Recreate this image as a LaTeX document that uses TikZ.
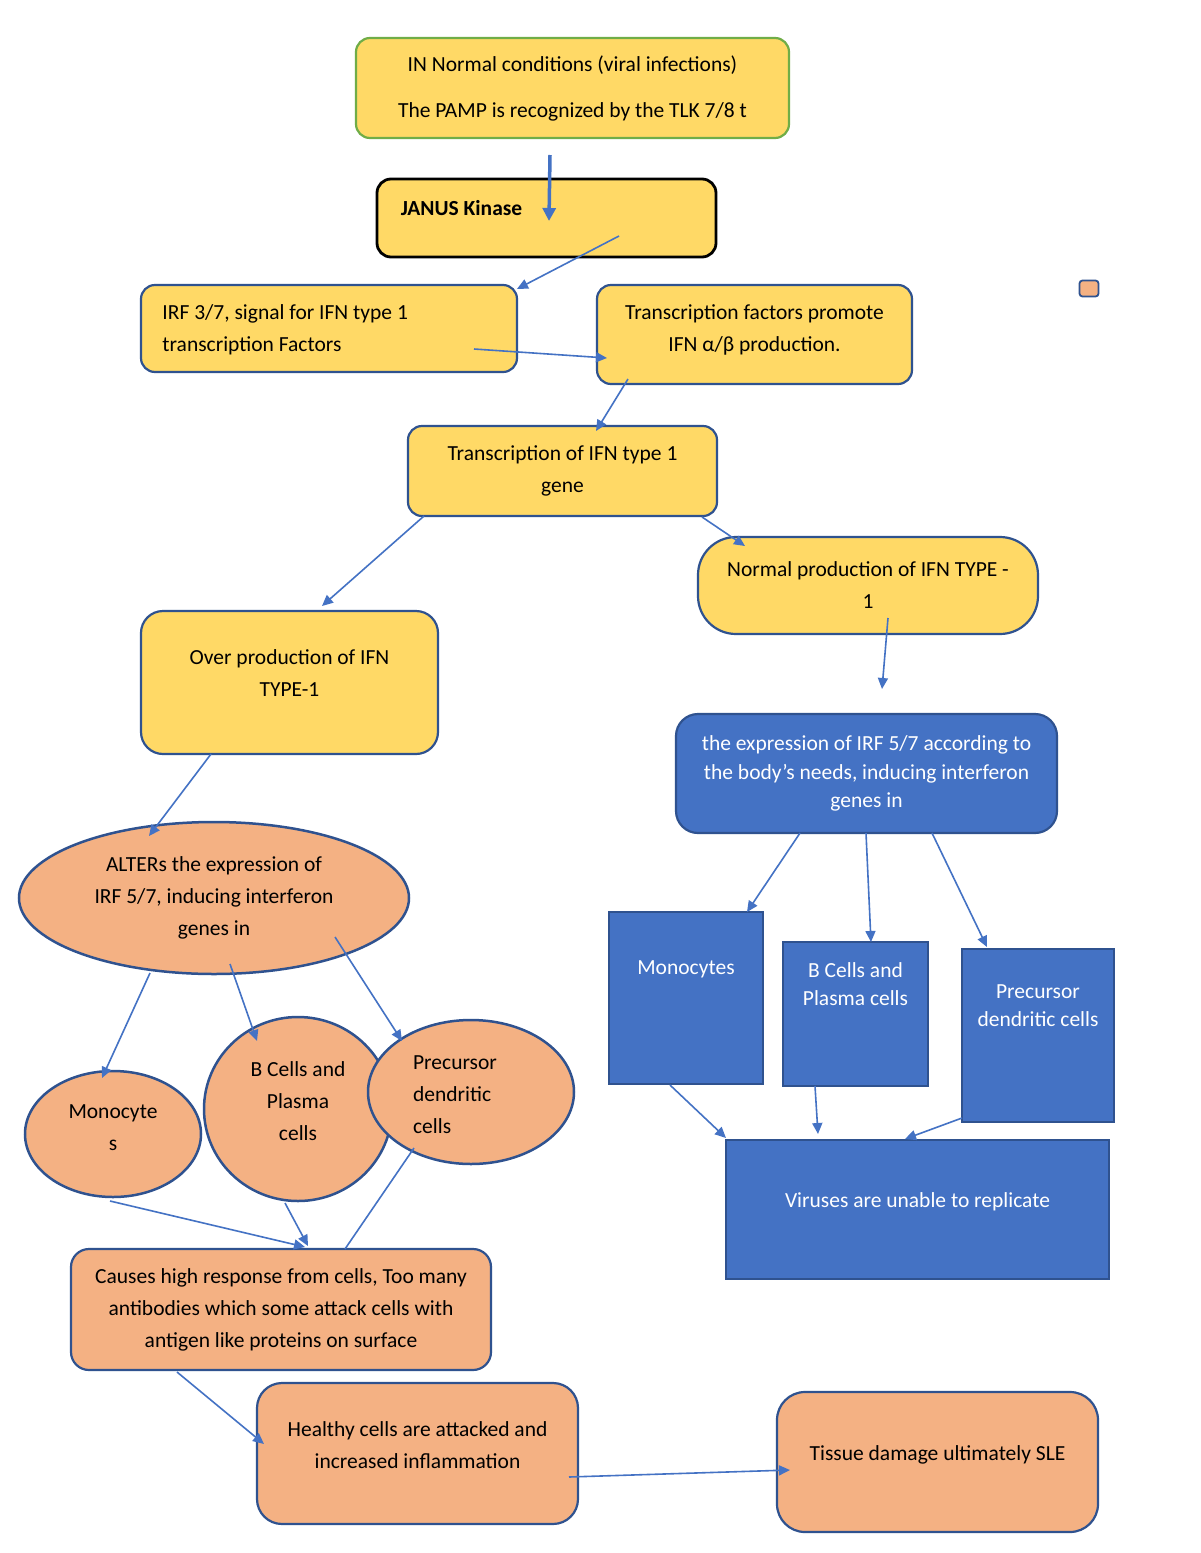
\documentclass[tikz,border=0pt]{standalone}
\usepackage{fontspec}
\setmainfont{Carlito}
\usetikzlibrary{shapes.geometric,arrows.meta}
\definecolor{ifnyellow}{HTML}{FFD966}
\definecolor{ifnorange}{HTML}{F4B183}
\definecolor{ifnblue}{HTML}{4472C4}
\definecolor{linedark}{HTML}{2F528F}
\definecolor{leafgreen}{HTML}{70AD47}
\begin{document}
\begin{tikzpicture}[x=1pt,y=-1pt,
    box/.style={draw=linedark, line width=2.2pt, rounded corners=14pt, inner sep=0pt,
      align=center, font=\fontsize{21.5}{32}\selectfont},
    ybox/.style={box, fill=ifnyellow},
    obox/.style={box, fill=ifnorange},
    bbox/.style={draw=linedark, line width=2.2pt, fill=ifnblue, text=white, inner sep=0pt,
      align=center, font=\fontsize{21.5}{28.5}\selectfont},
    cell/.style={ellipse, draw=linedark, line width=2.5pt, fill=ifnorange, inner sep=0pt,
      align=center, font=\fontsize{21.5}{32}\selectfont},
    txt/.style={align=center, font=\fontsize{21.5}{32}\selectfont},
    wtxt/.style={align=center, text=white, font=\fontsize{21.5}{28.5}\selectfont},
    flow/.style={draw=ifnblue, line width=1.6pt, -{Triangle[length=11pt,width=10pt]}}]
  \fill[white] (0,0) rectangle (1200,1553);
  \useasboundingbox (0,0) rectangle (1200,1553);

  % upper chain
  \node[ybox, draw=leafgreen, minimum width=433pt, minimum height=100pt] (viral) at (572.5,88)
    {IN Normal conditions (viral infections)\\[14pt]The PAMP is recognized by the TLK 7/8 t};
  \node[ybox, draw=black, line width=2.8pt, minimum width=339pt, minimum height=78pt,
    label={[txt, font=\fontsize{21.5}{32}\selectfont\bfseries, xshift=-85pt, yshift=10pt]center:JANUS Kinase}] (janus) at (546.5,218) {};
  \node[ybox, minimum width=376pt, minimum height=87pt,
    label={[txt, align=left, anchor=west, xshift=19pt, yshift=-1pt]west:IRF 3/7, signal for IFN type 1\\transcription Factors}] (irf) at (329,328.5) {};
  \node[ybox, minimum width=315pt, minimum height=99pt,
    label={[txt, yshift=5pt]center:Transcription factors promote\\IFN α/β production.}] (tfp) at (754.5,334.5) {};
  \node[ybox, minimum width=309pt, minimum height=90pt] (gene) at (562.5,471)
    {Transcription of IFN type 1\\gene};
  \node[ybox, rounded corners=38pt, minimum width=340pt, minimum height=97pt] (normal) at (868,585.5)
    {Normal production of IFN TYPE -\\1};
  \node[ybox, rounded corners=22pt, minimum width=297pt, minimum height=143pt,
    label={[txt, yshift=9pt]center:Over production of IFN\\TYPE-1}] (over) at (289.5,682.5) {};

  % normal branch
  \node[bbox, rounded corners=22pt, minimum width=381pt, minimum height=119pt] (expr) at (866.5,773.5)
    {the expression of IRF 5/7 according to\\the body’s needs, inducing interferon\\genes in};
  \node[bbox, minimum width=154pt, minimum height=172pt,
    label={[wtxt, yshift=29pt]center:Monocytes}] (bmono) at (686,998) {};
  \node[bbox, minimum width=145pt, minimum height=144pt,
    label={[wtxt, yshift=30pt]center:B Cells and\\Plasma cells}] (bbcell) at (855.5,1014) {};
  \node[bbox, minimum width=152pt, minimum height=173pt,
    label={[wtxt, yshift=30pt]center:Precursor\\dendritic cells}] (bprec) at (1038,1035.5) {};
  \node[bbox, minimum width=383pt, minimum height=139pt,
    label={[wtxt, yshift=8pt]center:Viruses are unable to replicate}] (virus) at (917.5,1209.5) {};

  % over production branch
  \node[cell, minimum width=390pt, minimum height=152pt] (alters) at (214,898)
    {ALTERs the expression of\\IRF 5/7, inducing interferon\\genes in};
  \node[cell, minimum width=176pt, minimum height=126pt,
    label={[txt, yshift=6pt]center:Monocyte\\s}] (mono) at (113,1134) {};
  \node[cell, minimum width=188pt, minimum height=184pt,
    label={[txt, yshift=8pt]center:B Cells and\\Plasma\\cells}] (bcell) at (298,1109) {};
  \node[cell, minimum width=206pt, minimum height=144pt,
    label={[txt, align=left, xshift=-16pt, yshift=-3pt]center:Precursor\\dendritic\\cells}] (prec) at (471,1092) {};
  \node[obox, rounded corners=18pt, minimum width=420pt, minimum height=121pt] (causes) at (281,1309.5)
    {Causes high response from cells, Too many\\antibodies which some attack cells with\\antigen like proteins on surface};
  \node[obox, rounded corners=25pt, minimum width=321pt, minimum height=141pt,
    label={[txt, yshift=8.5pt]center:Healthy cells are attacked and\\increased inflammation}] (healthy) at (417.5,1453.5) {};
  \node[obox, rounded corners=28pt, minimum width=321pt, minimum height=140pt,
    label={[txt, yshift=7pt]center:Tissue damage ultimately SLE}] (tissue) at (937.5,1462) {};
  \node[obox, rounded corners=3pt, line width=1.8pt, minimum width=19pt, minimum height=16pt] (swatch) at (1089,288.5) {};

  % connector ends
  \coordinate (viral-out) at (550,155);  \coordinate (janus-in) at (549,221);
  \coordinate (janus-out) at (619,236);  \coordinate (irf-in) at (517,289);
  \coordinate (irf-out) at (474,349);    \coordinate (tfp-in) at (607,358);
  \coordinate (tfp-out) at (628,379);    \coordinate (gene-in) at (596,431);
  \coordinate (gene-r) at (702,517);     \coordinate (normal-in) at (745,546);
  \coordinate (gene-l) at (424,516);     \coordinate (over-in) at (322,606);
  \coordinate (normal-out) at (888,618); \coordinate (expr-in) at (882,689);
  \coordinate (over-out) at (211,754);   \coordinate (alters-in) at (149,836);
  \coordinate (expr-l) at (800,833);     \coordinate (bmono-in) at (747,912);
  \coordinate (expr-m) at (866,833);     \coordinate (bbcell-in) at (871,942);
  \coordinate (expr-r) at (932,833);     \coordinate (bprec-in) at (987,947);
  \coordinate (alters-l) at (150,973);   \coordinate (mono-in) at (102,1078);
  \coordinate (alters-m) at (230,964);   \coordinate (bcell-in) at (257,1041);
  \coordinate (alters-r) at (335,937);   \coordinate (prec-in) at (402,1041);
  \coordinate (mono-out) at (110,1201);  \coordinate (causes-in) at (305,1247);
  \coordinate (bcell-out) at (285,1203); \coordinate (causes-in2) at (308,1246);
  \coordinate (prec-out) at (414,1148);  \coordinate (causes-top) at (345,1249);
  \coordinate (causes-out) at (177,1372);\coordinate (healthy-in) at (264,1444);
  \coordinate (healthy-out) at (569,1477);\coordinate (tissue-in) at (790,1470);
  \coordinate (bmono-out) at (670,1085); \coordinate (virus-l) at (726,1138);
  \coordinate (bbcell-out) at (815,1086);\coordinate (virus-m) at (818,1134);
  \coordinate (bprec-out) at (962,1118); \coordinate (virus-r) at (905,1139);

  \begin{scope}[flow]
    \draw[line width=3.5pt, -{Triangle[length=13pt,width=13pt]}] (viral-out) to (janus-in);
    \draw (janus-out) to (irf-in);
    \draw (irf-out) to (tfp-in);
    \draw (tfp-out) to (gene-in);
    \draw (gene-r) to (normal-in);
    \draw (gene-l) to (over-in);
    \draw (normal-out) to (expr-in);
    \draw (over-out) to (alters-in);
    \draw (expr-l) to (bmono-in);
    \draw (expr-m) to (bbcell-in);
    \draw (expr-r) to (bprec-in);
    \draw (alters-l) to (mono-in);
    \draw (alters-m) to (bcell-in);
    \draw (alters-r) to (prec-in);
    \draw (mono-out) to (causes-in);
    \draw (bcell-out) to (causes-in2);
    \draw[-] (prec-out) to (causes-top);
    \draw (causes-out) to (healthy-in);
    \draw (healthy-out) to (tissue-in);
    \draw (bmono-out) to (virus-l);
    \draw (bbcell-out) to (virus-m);
    \draw (bprec-out) to (virus-r);
  \end{scope}
\end{tikzpicture}
\end{document}
